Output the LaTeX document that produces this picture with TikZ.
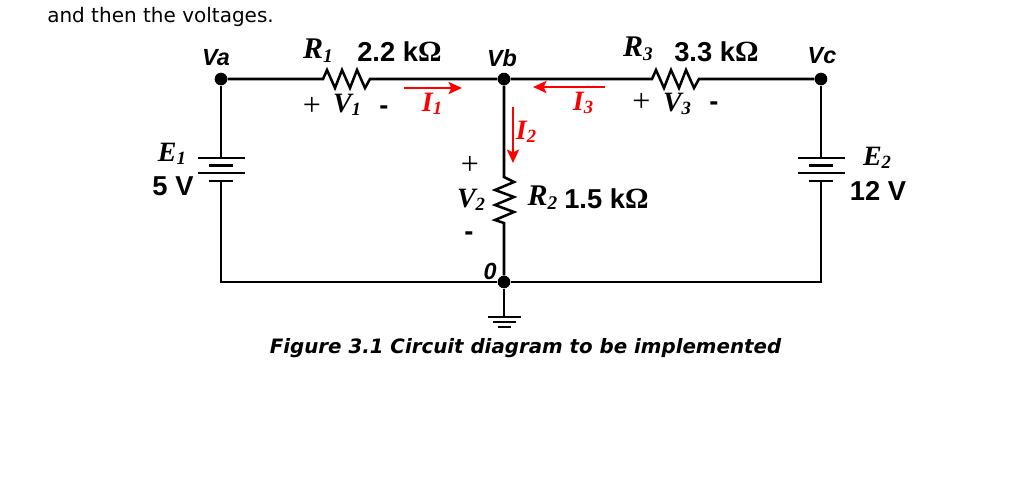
\documentclass[tikz,border=0pt]{standalone}
\usepackage{fontspec}
\setmainfont{Liberation Sans}
\newfontfamily\tms{Liberation Serif}
\newfontfamily\vrd{DejaVu Sans}
\newcommand{\symv}[2]{{\tms\bfseries\itshape\fontsize{21}{22}\selectfont #1\raisebox{-2.6pt}{\fontsize{14}{15}\selectfont #2}}}
\newcommand{\symr}[2]{{\tms\bfseries\itshape\fontsize{22.5}{24}\selectfont #1\raisebox{-2.8pt}{\fontsize{14.5}{15}\selectfont #2}}}
\newcommand{\ohm}{{\tms\fontsize{22}{24}\selectfont\bfseries Ω}}
\tikzset{
  x=0.75pt,y=-0.75pt,
  wire/.style={line width=1.9pt,black,line join=miter},
  plate/.style={line width=1.9pt,black},
  cur/.style={red,line width=1.9pt,-{Stealth[length=10pt,width=9pt,inset=2pt]}},
  dot/.style={circle,fill=black,draw=none,inner sep=0pt,minimum size=9.5pt},
  lab/.style={inner sep=0pt,anchor=center,text=black},
  nodev/.style={lab,font=\bfseries\itshape\fontsize{17.5}{18}\selectfont},
  val/.style={lab,font=\bfseries\fontsize{20.5}{22}\selectfont},
  pm/.style={lab,font=\tms\fontsize{24}{26}\selectfont},
  curlab/.style={lab,text=red},
}
\usetikzlibrary{arrows.meta}
\begin{document}
\begin{tikzpicture}
\useasboundingbox (0,0) rectangle (1012,490);
\fill[white] (0,0) rectangle (1012,490);
\node[lab,anchor=west,font=\vrd\fontsize{15}{16}\selectfont] (top) at (47,16.5) {and then the voltages.};

% junctions
\node[dot] (a) at (221,79) {};
\node[dot] (b) at (504,79) {};
\node[dot] (c) at (821,79) {};
\node[dot] (g) at (504,282) {};
\coordinate (r1l) at (323,79); \coordinate (r1r) at (370,79);
\coordinate (r3l) at (652,79); \coordinate (r3r) at (699,79);
\coordinate (r2t) at (504,177); \coordinate (r2b) at (504,223);
\coordinate (e1t) at (221,158); \coordinate (e1b) at (221,181);
\coordinate (e2t) at (821,158); \coordinate (e2b) at (821,181);
\coordinate (gnd) at (504,317);
\coordinate (cl) at (221,282); \coordinate (cr) at (821,282);

% wires
\draw[wire] (a) -- (r1l) -- ++(4,-9) -- ++(8,18) -- ++(7,-18) -- ++(8,18) -- ++(7,-18) -- ++(8,18) -- (r1r) -- (b);
\draw[wire] (b) -- (r3l) -- ++(4,-9) -- ++(8,18) -- ++(7,-18) -- ++(8,18) -- ++(7,-18) -- ++(8,18) -- (r3r) -- (c);
\draw[wire] (b) -- (r2t) -- ++(10,5) -- ++(-19,8) -- ++(19,7) -- ++(-19,8) -- ++(19,7) -- ++(-19,8) -- (r2b) -- (g);
\draw[wire] (a) -- (e1t);
\draw[wire] (e1b) -- (cl) -- (g) -- (cr) -- (e2b);
\draw[wire] (c) -- (e2t);
\draw[wire] (g) -- (gnd);

% batteries
\foreach \n/\X in {e1/221,e2/821}{
  \draw[plate] (\X-23,158) -- (\X+24,158);
  \draw[plate] (\X-12,165.5) -- (\X+12,165.5);
  \draw[plate] (\X-23,173) -- (\X+24,173);
  \draw[plate] (\X-12,181) -- (\X+12,181);
}
% ground
\draw[plate] (488,317) -- (521,317);
\draw[plate] (493,322) -- (516,322);
\draw[plate] (498,327) -- (511,327);

% currents
\coordinate (i1s) at (404,88); \coordinate (i1e) at (462,88);
\coordinate (i3s) at (605,87); \coordinate (i3e) at (533,87);
\coordinate (i2s) at (513,107); \coordinate (i2e) at (513,163);
\draw[cur] (i1s) -- (i1e);
\draw[cur] (i3s) -- (i3e);
\draw[cur] (i2s) -- (i2e);
\node[curlab] (li1) at (432,104) {\symv{I}{1}};
\node[curlab] (li3) at (583,103) {\symv{I}{3}};
\node[curlab] (li2) at (526,132) {\symv{I}{2}};

% labels
\node[nodev] (va) at (216,58) {Va};
\node[nodev] (vb) at (502,58) {Vb};
\node[nodev] (vc) at (822,56) {Vc};
\node[lab] (r1) at (318,51) {\symr{R}{1}};
\node[val,anchor=west] (r1v) at (357,52) {2.2 k\ohm};
\node[lab] (r3) at (638,49) {\symr{R}{3}};
\node[val,anchor=west] (r3v) at (674,52) {3.3 k\ohm};
\node[lab] (r2) at (542.5,198) {\symr{R}{2}};
\node[val,anchor=west] (r2v) at (564,199) {1.5 k\ohm};
\node[pm] (p1) at (312,106.5) {+};
\node[lab] (v1) at (347,105) {\symv{V}{1}};
\node[val] (m1) at (384,110) {-};
\node[pm] (p3) at (641.5,102) {+};
\node[lab] (v3) at (677,104) {\symv{V}{3}};
\node[val] (m3) at (714,106) {-};
\node[pm] (p2) at (470,165.5) {+};
\node[lab] (v2) at (471,200) {\symv{V}{2}};
\node[val] (m2) at (469,236) {-};
\node[lab] (e1) at (172,154) {\symv{E}{1}};
\node[val] (e1v) at (173,186) {5 V};
\node[lab] (e2) at (877,158) {\symv{E}{2}};
\node[val] (e2v) at (878,191) {12 V};
\node[nodev] (zero) at (490,271) {0};
\node[lab,font=\vrd\bfseries\itshape\fontsize{14.85}{17}\selectfont] (cap) at (525.5,348) {Figure 3.1 Circuit diagram to be implemented};
\end{tikzpicture}
\end{document}
